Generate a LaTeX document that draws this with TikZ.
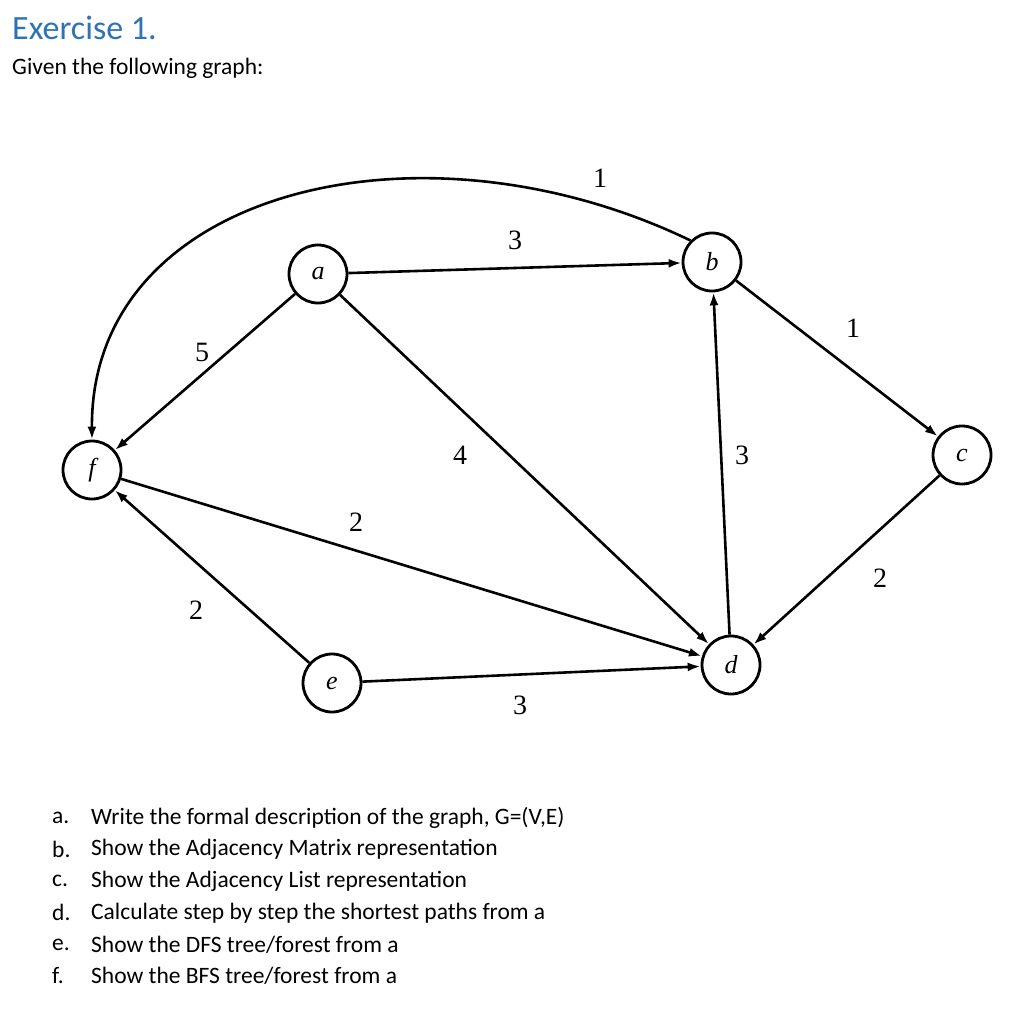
\documentclass[tikz,border=0pt]{standalone}
\usepackage{fontspec}
\setmainfont{Carlito}
\newfontfamily\gserif{Liberation Serif}
\usetikzlibrary{arrows.meta}
\definecolor{titleblue}{RGB}{46,116,181}
\begin{document}
\begin{tikzpicture}[x=1pt,y=-1pt,
  vtx/.style={circle,draw,line width=2.8pt,minimum size=58pt,inner sep=0pt,font=\gserif\itshape\fontsize{26}{26}\selectfont},
  edge/.style={line width=2.6pt,-{Latex[length=13pt,width=9pt]}},
  wl/.style={font=\gserif\fontsize{28}{28}\selectfont},
  txt/.style={anchor=west,inner sep=0pt,font=\fontsize{23.5}{26}\selectfont}]
\useasboundingbox (0,0) rectangle (1024,1008);
\node[anchor=west,inner sep=0pt,text=titleblue,font=\fontsize{34}{36}\selectfont] (title) at (12,28) {Exercise 1.};
\node[txt] (given) at (12,68) {Given the following graph:};
\node[vtx] (a) at (318,274) {a};
\node[vtx] (b) at (712,262) {b};
\node[vtx] (c) at (962,455) {c};
\node[vtx] (f) at (92,470) {f};
\node[vtx] (d) at (731,665) {d};
\node[vtx] (e) at (332,683) {e};
\draw[edge] (a) -- (b);
\draw[edge] (b.north west) .. controls (420,110) and (90,190) .. (f.north);
\draw[edge] (a) -- (f);
\draw[edge] (a) -- (d);
\draw[edge] (d) -- (b);
\draw[edge] (b) -- (c);
\draw[edge] (c) -- (d);
\draw[edge] (f) -- (d);
\draw[edge] (e) -- (f);
\draw[edge] (e) -- (d);
\node[wl] (l1) at (515,240) {3};
\node[wl] (l2) at (600,178) {1};
\node[wl] (l3) at (202,352) {5};
\node[wl] (l4) at (460,455) {4};
\node[wl] (l5) at (742,455) {3};
\node[wl] (l6) at (853,328) {1};
\node[wl] (l7) at (880,578) {2};
\node[wl] (l8) at (356,522) {2};
\node[wl] (l9) at (196,610) {2};
\node[wl] (l10) at (520,705) {3};
\foreach \l/\t [count=\i] in {a./{Write the formal description of the graph, G=(V,E)},b./{Show the Adjacency Matrix representation},c./{Show the Adjacency List representation},d./{Calculate step by step the shortest paths from a},e./{Show the DFS tree/forest from a},f./{Show the BFS tree/forest from a}}{
  \node[txt] (m\i) at (52,{818+31.6*(\i-1)}) {\l};
  \node[txt] (t\i) at (91,{818+31.6*(\i-1)}) {\t};
}
\end{tikzpicture}
\end{document}
